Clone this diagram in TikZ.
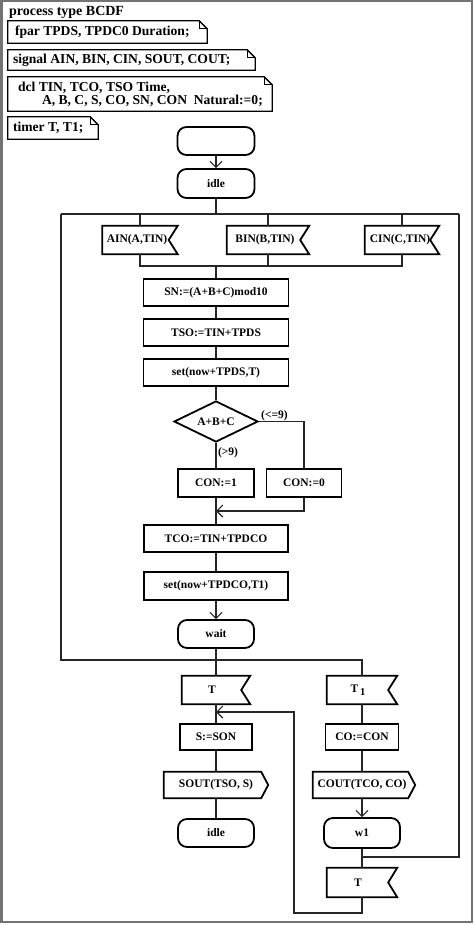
\documentclass[tikz,border=0pt]{standalone}
\usepackage{fontspec}
\setmainfont{Liberation Serif}
\usetikzlibrary{arrows.meta,shapes.geometric}
\newcommand\sdlin[1]{\draw[boxline] (#1.north west) -- (#1.north east) -- ([xshift=-9pt]#1.east) -- (#1.south east) -- (#1.south west) -- cycle;}
\newcommand\sdlout[1]{\draw[boxline] (#1.north west) -- ([xshift=-7pt]#1.north east) -- (#1.east) -- ([xshift=-7pt]#1.south east) -- (#1.south west) -- cycle;}
\newcommand\sdltext[1]{\draw[declline] (#1.north west) -- ([xshift=-8pt]#1.north east) -- ([yshift=-8pt]#1.north east) -- (#1.south east) -- (#1.south west) -- cycle;
  \draw[declline] ([xshift=-8pt]#1.north east) -- ([xshift=-8pt,yshift=-8pt]#1.north east) -- ([yshift=-8pt]#1.north east);}
\begin{document}
\begin{tikzpicture}[x=1pt,y=-1pt,
  every node/.style={font=\fontsize{11.5}{13}\selectfont\bfseries, inner sep=0pt},
  boxline/.style={draw=black,line width=1.8pt,line join=miter},
  declline/.style={draw=black,line width=1.3pt},
  proc/.style={boxline, rectangle, minimum height=27pt},
  term/.style={boxline, rectangle, rounded corners=9pt, minimum width=76pt, minimum height=28pt},
  sig/.style={rectangle, minimum height=28pt},
  conn/.style={draw=black!85, line width=1.1pt},
  arr/.style={conn, -{Straight Barb[length=6pt,width=12pt]}},
  declbox/.style={rectangle},
  decl/.style={rectangle, align=left, anchor=west, font=\fontsize{13.6}{13}\selectfont\bfseries}]
\useasboundingbox (0,0) rectangle (474,925);
\fill[white] (0,0) rectangle (474,925);
\draw[draw=black!55, line width=2.5pt] (1.5,1) rectangle (472,922);

% declarations
\node[decl, font=\fontsize{14}{14}\selectfont\bfseries] (title) at (9,12) {process type BCDF};
\node[declbox, minimum width=199pt, minimum height=22pt] (fpar) at (107.5,32) {};
\sdltext{fpar}
\node[decl] (fpart) at ([xshift=7pt]fpar.west) {fpar TPDS, TPDC0 Duration;};
\node[declbox, minimum width=247pt, minimum height=20pt] (signal) at (131.5,60) {};
\sdltext{signal}
\node[decl] (signalt) at ([xshift=5pt]signal.west) {signal AIN, BIN, CIN, SOUT, COUT;};
\node[declbox, minimum width=264pt, minimum height=34pt] (dcl) at (140,94) {};
\sdltext{dcl}
\node[decl] (dclt) at ([xshift=10pt]dcl.west) {dcl TIN, TCO, TSO Time,\\\hspace*{24pt}A, B, C, S, CO, SN, CON\ \ Natural:=0;};
\node[declbox, minimum width=90pt, minimum height=22pt] (timer) at (53,128) {};
\sdltext{timer}
\node[decl] (timert) at ([xshift=5pt]timer.west) {timer T, T1;};

% main column
\node[term, minimum width=77pt] (start) at (216,141) {};
\node[term, minimum width=77pt, minimum height=29pt] (idle) at (216,183.5) {idle};

\coordinate (tl) at (61,214);
\coordinate (tr) at (459,214);
\coordinate (bl) at (61,660);
\coordinate (jy) at (216,266);

\node[sig, minimum width=75pt] (ain) at (140,240) {AIN(A,TIN)\hspace*{6pt}};
\sdlin{ain}
\node[sig, minimum width=82pt] (bin) at (268,240) {BIN(B,TIN)\hspace*{6pt}};
\sdlin{bin}
\node[sig, minimum width=74pt] (cin) at (402,240) {CIN(C,TIN)\hspace*{4pt}};
\sdlin{cin}

\node[proc, minimum width=145pt] (sn) at (216,292.5) {SN:=(A+B+C)mod10};
\node[proc, minimum width=145pt] (tso) at (216,332.5) {TSO:=TIN+TPDS};
\node[proc, minimum width=145pt] (set) at (216,372.5) {set(now+TPDS,T)};
\node[boxline, diamond, aspect=2, minimum width=84pt, minimum height=41pt] (dia) at (216,421.5) {A+B+C};
\node (le) at (274.5,416) {(<=9)};
\node (gt) at (228,453) {(>9)};
\node[proc, minimum width=76pt, minimum height=28pt] (con1) at (216,483) {CON:=1};
\node[proc, minimum width=75pt, minimum height=28pt] (con0) at (304,483) {CON:=0};
\coordinate (mj) at (216,511);
\node[proc, minimum width=144pt] (tco) at (216,538.5) {TCO:=TIN+TPDCO};
\node[proc, minimum width=144pt, minimum height=28pt] (set2) at (216,586) {set(now+TPDCO,T1)};
\node[term] (wait) at (216,634) {wait};

% lower left column
\node[sig, minimum width=68pt] (t) at (216,690) {T\hspace*{8pt}};
\sdlin{t}
\coordinate (sj) at (216,712);
\node[proc, minimum width=72pt, minimum height=26pt] (sson) at (216,737) {S:=SON};
\node[sig, minimum width=104pt, minimum height=26pt] (sout) at (216,785) {SOUT(TSO, S)};
\sdlout{sout}
\node[term] (idle2) at (216,833) {idle};

% lower right column
\node[sig, minimum width=70pt] (t1) at (362,690) {T\,\raisebox{-3pt}{\fontsize{10.5}{10.5}\selectfont 1}\hspace*{8pt}};
\sdlin{t1}
\node[proc, minimum width=73pt, minimum height=26pt] (coc) at (362,737) {CO:=CON};
\node[sig, minimum width=102pt, minimum height=26pt] (cout) at (364,785) {COUT(TCO, CO)\hspace*{4pt}};
\sdlout{cout}
\node[term, minimum height=30pt] (w1) at (362,833) {w1};
\coordinate (w1j) at (362,857);
\node[sig, minimum width=70pt, minimum height=29pt] (tb) at (362,882.5) {T\hspace*{8pt}};
\sdlin{tb}
\coordinate (lb1) at (294,913);

% connectors
\draw[arr] (start) -- (idle);
\draw[conn] (idle) -- (idle |- tl);
\draw[conn] (tl) -- (tr);
\draw[conn] (ain.north) -- (ain.north |- tl);
\draw[conn] (bin.north) -- (bin.north |- tl);
\draw[conn] (cin.north) -- (cin.north |- tl);
\draw[conn] (ain.south) -- (ain.south |- jy) -- (cin.south |- jy) -- (cin.south);
\draw[conn] (bin.south) -- (bin.south |- jy);
\draw[conn] (jy) -- (sn);
\draw[conn] (sn) -- (tso);
\draw[conn] (tso) -- (set);
\draw[conn] (set) -- (dia);
\draw[conn] (dia) -- (con1);
\draw[conn] (dia.east) -| (con0.north);
\draw[arr] (con0.south) |- (mj);
\draw[conn] (con1) -- (tco);
\draw[conn] (tco) -- (set2);
\draw[arr] (set2) -- (wait);
\draw[conn] (wait) -- (t);
\draw[conn] (t1.north) |- (bl) -- (tl);
\draw[conn] (t) -- (sson);
\draw[conn] (sson) -- (sout);
\draw[conn] (sout) -- (idle2);
\draw[conn] (t1) -- (coc);
\draw[conn] (coc) -- (coc |- cout.north);
\draw[arr] (coc |- cout.south) -- (w1);
\draw[conn] (w1) -- (tb);
\draw[conn] (w1j) -| (tr);
\draw[arr] (tb.south) |- (lb1) |- (sj);
\end{tikzpicture}
\end{document}
